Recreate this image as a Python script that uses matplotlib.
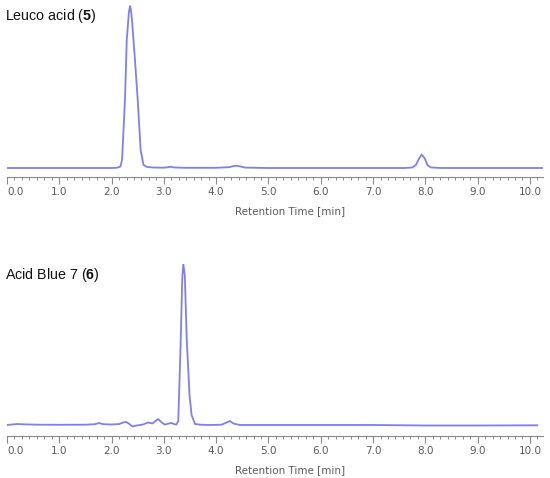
import numpy as np
import matplotlib
matplotlib.use("Agg")
import matplotlib.pyplot as plt
from matplotlib.ticker import MultipleLocator, AutoMinorLocator

plt.rcParams['mathtext.fontset'] = 'custom'
plt.rcParams['mathtext.rm'] = 'Liberation Sans'
plt.rcParams['mathtext.bf'] = 'Liberation Sans:bold'

# Leuco acid (5) trace, retention time [min] vs signal (arb. units)
t_leuco = [0.0, 0.5, 1.0, 1.5, 2.0, 2.1, 2.17, 2.20, 2.256, 2.29, 2.33, 2.352, 2.37,
           2.39, 2.447, 2.50, 2.556, 2.61, 2.68, 2.8, 3.0, 3.08, 3.13, 3.18, 3.4, 4.0,
           4.25, 4.32, 4.39, 4.46, 4.55, 5.0, 6.0, 7.0, 7.6, 7.75, 7.82, 7.87, 7.93,
           7.99, 8.04, 8.1, 8.3, 9.0, 10.0, 10.25]
h_leuco = [0, 0, 0, 0, 0, 0.2, 1.5, 8, 68, 128, 155, 162, 158,
           148, 108, 68, 18, 3, 1, 0.5, 0.3, 0.8, 1.3, 0.6, 0.2, 0.2,
           0.8, 1.8, 2.3, 1.6, 0.4, 0, 0, 0, 0, 0.5, 3, 8.5, 13.5,
           9.5, 3, 0.6, 0, 0, 0, 0]

# Acid Blue 7 (6) trace
t_ab7 = [0.0, 0.1, 0.2, 0.35, 0.6, 1.0, 1.5, 1.68, 1.76, 1.84, 2.0, 2.15, 2.22, 2.28,
         2.34, 2.40, 2.48, 2.6, 2.70, 2.78, 2.84, 2.89, 2.95, 3.02, 3.09, 3.15, 3.20,
         3.24, 3.275, 3.32, 3.35, 3.371, 3.40, 3.436, 3.49, 3.53, 3.595, 3.7, 3.9, 4.1,
         4.18, 4.26, 4.33, 4.45, 5.0, 6.0, 7.0, 8.0, 9.0, 10.14]
h_ab7 = [0, 0.5, 1, 0.6, 0.3, 0.2, 0.3, 0.8, 2, 0.8, 0.5, 1, 2.5, 3,
         1, -1.5, -0.5, 0.5, 2.5, 1.5, 4, 6, 3, 0.3, 1.5, 2, 0.8,
         0.5, 4, 80, 145, 161, 150, 87, 30, 10, 1, 0.3, 0, 0.3,
         2, 4, 1.5, 0, 0, 0, 0, -0.5, -0.5, -0.3]

titles = [r"Leuco acid ($\mathbf{5}$)", r"Acid Blue 7 ($\mathbf{6}$)"]

W, H = 550, 478
fig = plt.figure(figsize=(5.5, 4.78), dpi=100)

line_col = '#7f7fee'
axis_col = '#8a8a8a'
text_col = '#5a5a5a'

# (spine y, top y, ylim) in pixels
panels = [
    (t_leuco, h_leuco, 177, 5, (-9, 163)),
    (t_ab7, h_ab7, 436, 264, (-11, 161)),
]

for i, (t, h, y_spine, y_top, ylim) in enumerate(panels):
    ax = fig.add_axes([7 / W, 1 - y_spine / H, 536 / W, (y_spine - y_top) / H])
    ax.plot(t, h, color=line_col, lw=1.3, solid_joinstyle='round')
    ax.set_xlim(0, 10.25)
    ax.set_ylim(*ylim)
    for s in ['top', 'right', 'left']:
        ax.spines[s].set_visible(False)
    ax.spines['bottom'].set_color(axis_col)
    ax.spines['bottom'].set_linewidth(0.8)
    ax.set_yticks([])
    ax.xaxis.set_major_locator(MultipleLocator(1.0))
    ax.xaxis.set_minor_locator(AutoMinorLocator(7))
    ax.tick_params(axis='x', which='major', length=5, width=0.8, color=axis_col,
                   labelsize=7.5, labelcolor=text_col, pad=2)
    ax.tick_params(axis='x', which='minor', length=2.5, width=0.7, color=axis_col)
    ticks = np.arange(0, 11)
    ax.set_xticks(ticks)
    ax.set_xticklabels([f"{v:.1f}" for v in ticks])
    ax.get_xticklabels()[0].set_horizontalalignment('left')
    ax.patch.set_alpha(0)

    fig.text(290 / W, 1 - (y_spine + 34) / H, "Retention Time [min]", ha='center',
             va='center', fontsize=7.5, color=text_col)
    fig.text(5 / W, 1 - (y_top + 11) / H, titles[i], ha='left', va='center',
             fontsize=10.3, family='Liberation Sans', color='#111111')

fig.savefig("out.png", dpi=100)
